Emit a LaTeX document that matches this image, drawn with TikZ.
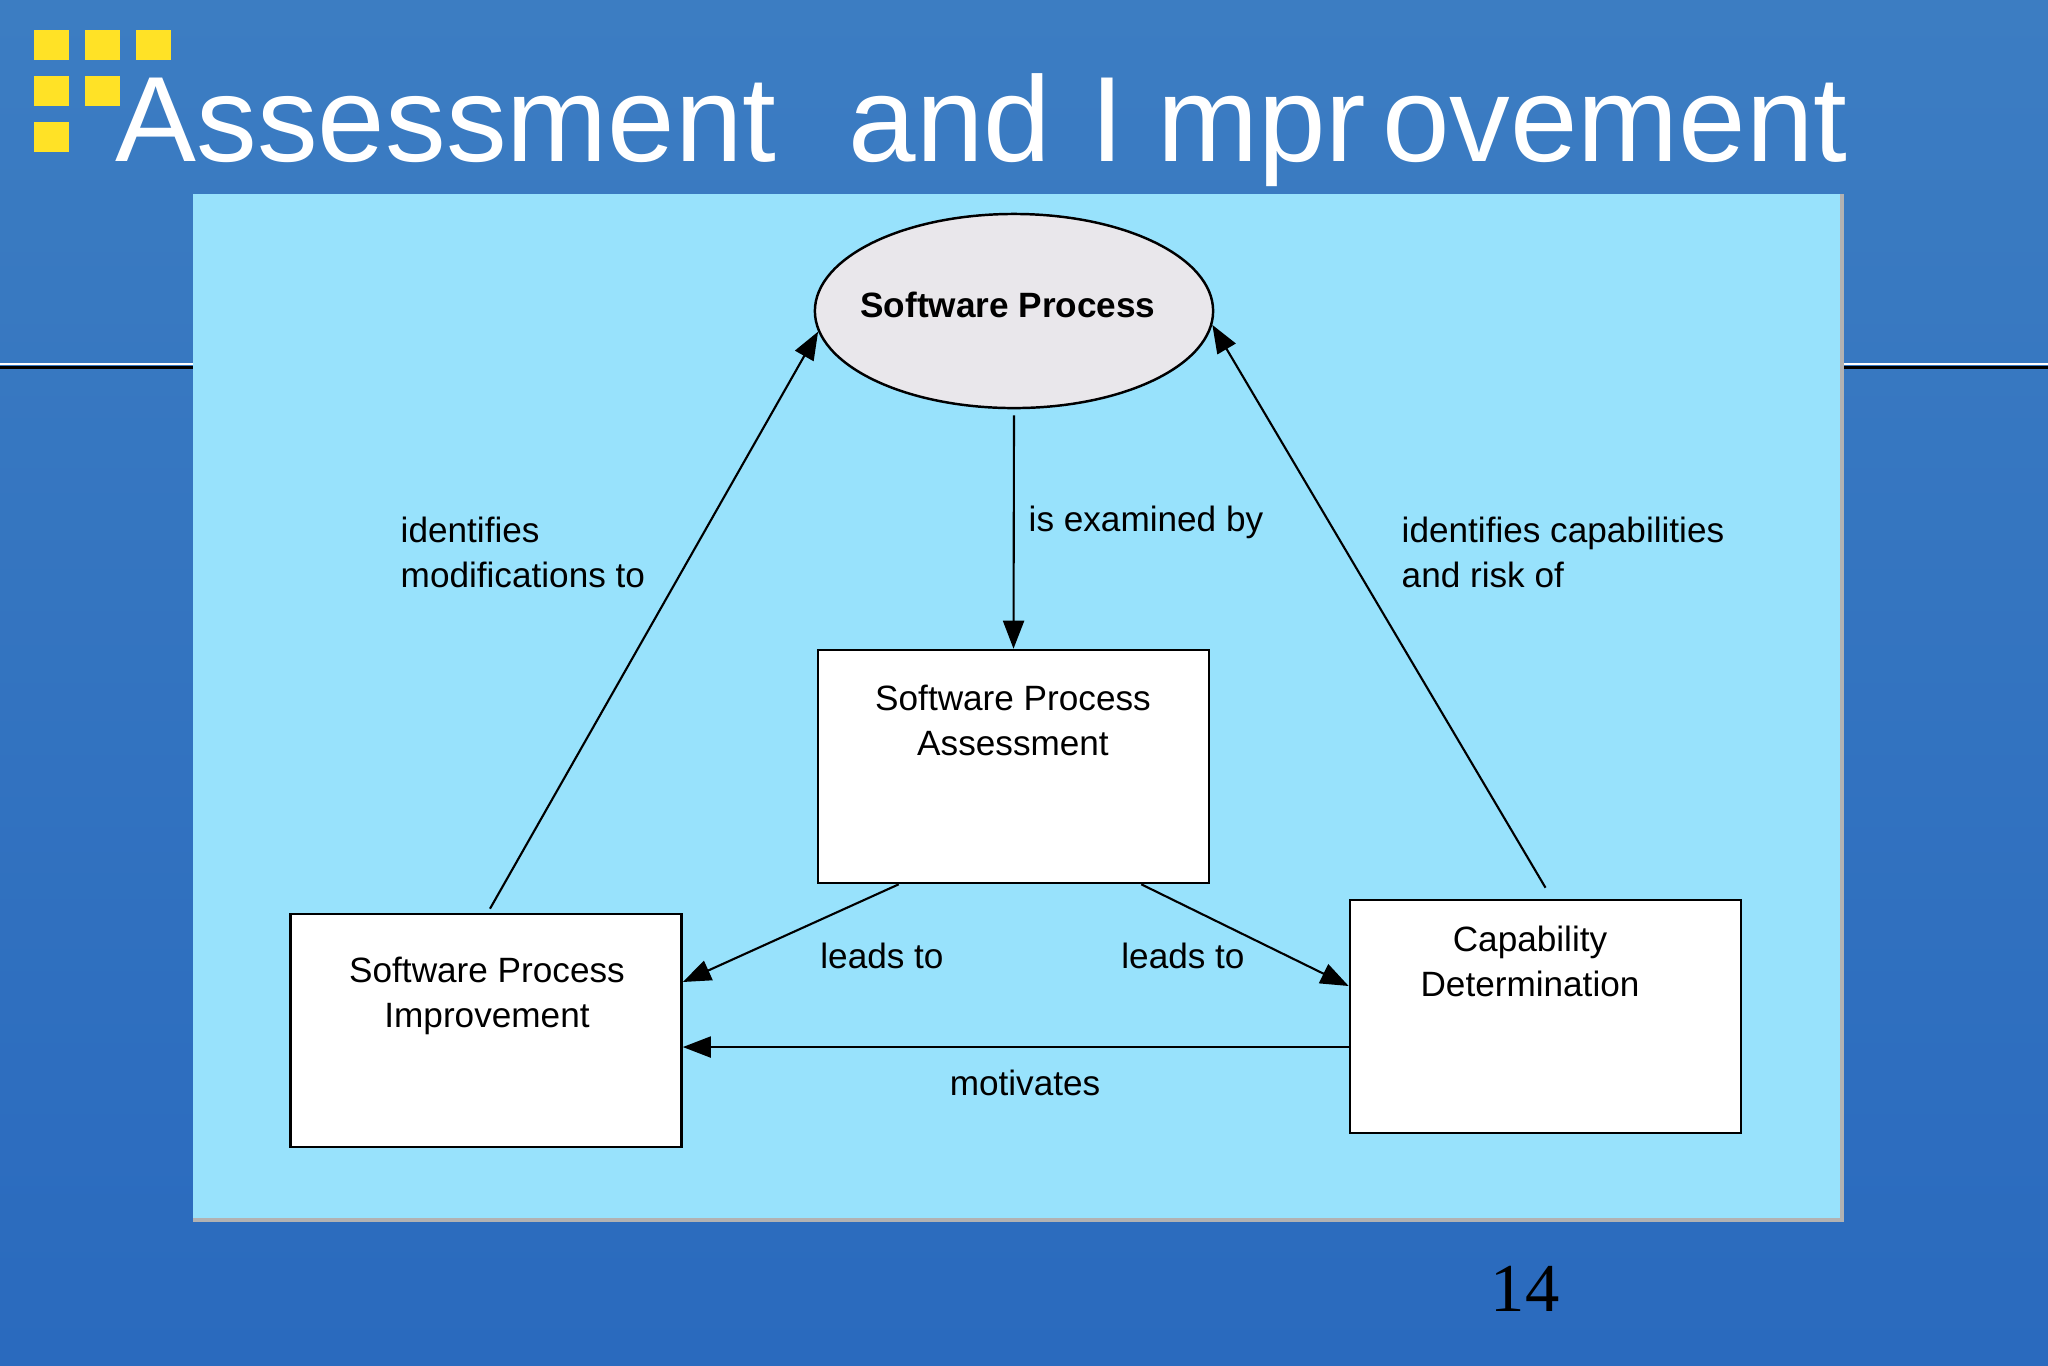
\documentclass[tikz,border=0pt]{standalone}
\usepackage{fontspec}
\setmainfont{Liberation Sans}
\newfontfamily\serifnum{Liberation Serif}
\usetikzlibrary{arrows.meta,shapes.geometric,calc}
\definecolor{bgtop}{RGB}{60,125,194}
\definecolor{bgbot}{RGB}{42,106,190}
\definecolor{panel}{RGB}{152,226,252}
\definecolor{ellfill}{RGB}{233,231,235}
\definecolor{sqyellow}{RGB}{255,226,38}
\tikzset{
  lbl/.style={font=\fontsize{10}{12.8}\selectfont, inner sep=0pt, text=black},
  boxnode/.style={draw=black, fill=white, line width=0.7pt, minimum width=3.91cm, minimum height=2.33cm, inner sep=0pt},
  arr/.style={line width=0.6pt, -{Triangle[length=0.28cm,width=0.21cm]}},
  sq/.style={fill=sqyellow, draw=none}
}
\begin{document}
\begin{tikzpicture}[x=0.01cm, y=-0.01cm]
\useasboundingbox (0,0) rectangle (2048,1365);
% background
\shade[top color=bgtop, bottom color=bgbot] (0,0) rectangle (2048,1365);
% logo squares
\fill[sq] (34,30) rectangle (69,60);
\fill[sq] (85,30) rectangle (120,60);
\fill[sq] (136,30) rectangle (171,60);
\fill[sq] (34,76) rectangle (69,106);
\fill[sq] (85,76) rectangle (120,106);
\fill[sq] (34,122) rectangle (69,152);
% title
\node[anchor=base west, inner sep=0pt, text=white, font=\fontsize{34.5}{40}\selectfont] (title) at (115,161)
  {\makebox[7.33cm][l]{Assessment}\makebox[2.41cm][l]{and}\makebox[0.67cm][l]{I}\makebox[2.25cm][l]{mpr}ovement};
% rule lines
\draw[white, line width=0.02cm] (0,364) -- (2048,364);
\draw[black, line width=0.03cm] (0,367) -- (2048,367);
% panel
\fill[panel] (193,194) rectangle (1842,1220);
\draw[gray!60!white, line width=1.2pt] (1842,194) -- (1842,1220) -- (193,1220);
% nodes
\node[ellipse, draw=black, fill=ellfill, line width=0.7pt, minimum width=3.98cm, minimum height=1.94cm, inner sep=0pt] (sp) at (1014,311) {};
\node[anchor=base, inner sep=0pt, font=\fontsize{10}{12.8}\selectfont\bfseries] (sptext) at (1008,317) {Software Process};
\node[boxnode] (spa) at (1013.5,766.5) {};
\node[boxnode] (spi) at (486,1030.5) {};
\node[boxnode] (cd) at (1545.5,1016.5) {};
\node[lbl, align=center] (spatext) at (1013,720) {Software Process\\Assessment};
\node[lbl, align=center] (spitext) at (487,995.5) {Software Process\\Improvement};
\node[lbl, align=center] (cdtext) at (1530,961) {Capability\\Determination};
% connectors
\draw[arr] ([yshift=-0.06cm]sp.south) -- (spa.north);
\draw[arr] ([xshift=0.04cm,yshift=0.04cm]spi.north) -- (sp.186);
\draw[arr] ([yshift=0.11cm]cd.north) -- (sp.356.5);
\draw[arr] ([xshift=0.82cm]spa.south west) -- ([yshift=0.485cm]spi.east);
\draw[arr] ([xshift=-0.69cm]spa.south east) -- ([yshift=0.305cm]cd.west);
\draw[arr] ([yshift=-0.305cm]cd.west) -- ([yshift=-0.305cm]cd.west -| spi.east);
% labels
\node[lbl, anchor=base west] (l1) at (1028,531) {is examined by};
\node[lbl, anchor=west, align=left] (l2) at (400,552) {identifies\\modifications to};
\node[lbl, anchor=west, align=left] (l3) at (1401,552) {identifies capabilities\\and risk of};
\node[lbl, anchor=base] (l4) at (882,968) {leads to};
\node[lbl, anchor=base] (l5) at (1183,968) {leads to};
\node[lbl, anchor=base] (l6) at (1025,1095) {motivates};
% page number
\node[anchor=base, inner sep=0pt, font=\serifnum\fontsize{19.5}{22}\selectfont] (pg) at (1525,1311) {14};
\end{tikzpicture}
\end{document}
